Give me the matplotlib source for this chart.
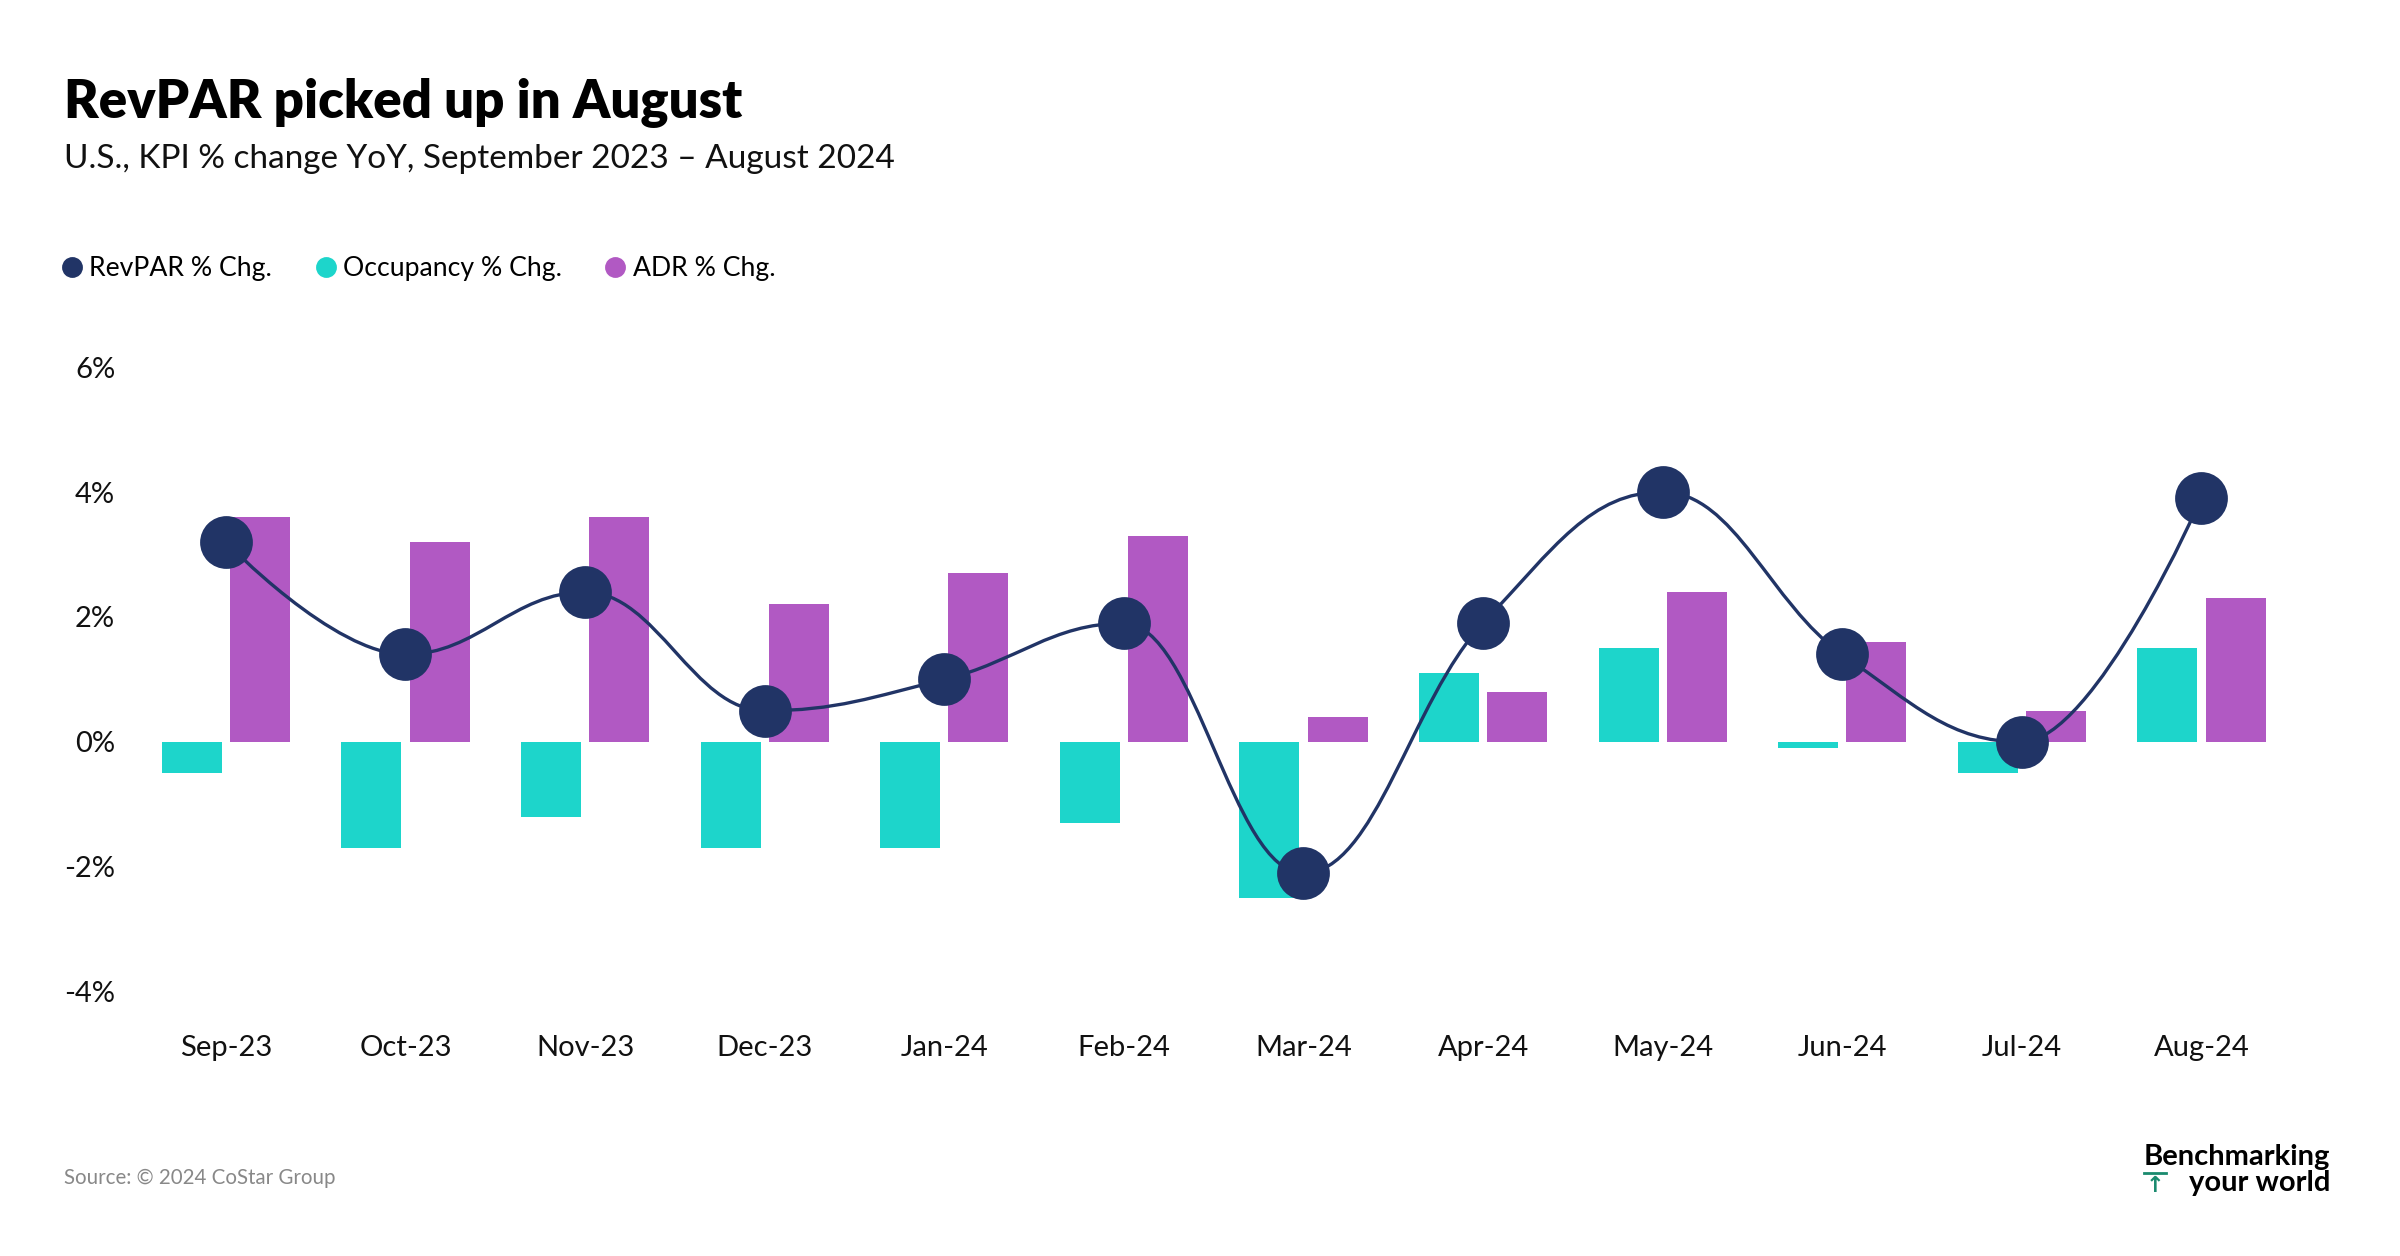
import numpy as np
import matplotlib
matplotlib.use("Agg")
import matplotlib.pyplot as plt
from matplotlib.path import Path
from matplotlib.patches import PathPatch
from matplotlib.lines import Line2D

# --- data ---
months = ["Sep-23", "Oct-23", "Nov-23", "Dec-23", "Jan-24", "Feb-24",
          "Mar-24", "Apr-24", "May-24", "Jun-24", "Jul-24", "Aug-24"]
revpar_chg = [3.2, 1.4, 2.4, 0.5, 1.0, 1.9, -2.1, 1.9, 4.0, 1.4, 0.0, 3.9]
occ_chg = [-0.5, -1.7, -1.2, -1.7, -1.7, -1.3, -2.5, 1.1, 1.5, -0.1, -0.5, 1.5]
adr_chg = [3.6, 3.2, 3.6, 2.2, 2.7, 3.3, 0.4, 0.8, 2.4, 1.6, 0.5, 2.3]
y_ticks = [-4, -2, 0, 2, 4, 6]

NAVY = "#213466"
TEAL = "#1dd5cb"
PURPLE = "#b159c3"
TXT = "#111111"

plt.rcParams["font.family"] = ["Lato", "DejaVu Sans"]


def spline_path(xs, ys, smoothing=1.5):
    """Highcharts-style spline through the points, as a bezier Path."""
    n = len(xs)
    left = [None] * n
    right = [None] * n
    denom = smoothing + 1
    for i in range(1, n - 1):
        x, y = xs[i], ys[i]
        lx = (smoothing * x + xs[i - 1]) / denom
        ly = (smoothing * y + ys[i - 1]) / denom
        rx = (smoothing * x + xs[i + 1]) / denom
        ry = (smoothing * y + ys[i + 1]) / denom
        corr = ((ry - ly) * (rx - x)) / (rx - lx) + y - ry
        ly += corr
        ry += corr
        # keep the curve from overshooting the neighbours
        if ly > ys[i - 1] and ly > y:
            ly = max(ys[i - 1], y)
            ry = 2 * y - ly
        elif ly < ys[i - 1] and ly < y:
            ly = min(ys[i - 1], y)
            ry = 2 * y - ly
        if ry > ys[i + 1] and ry > y:
            ry = max(ys[i + 1], y)
            ly = 2 * y - ry
        elif ry < ys[i + 1] and ry < y:
            ry = min(ys[i + 1], y)
            ly = 2 * y - ry
        left[i] = (lx, ly)
        right[i] = (rx, ry)
    verts = [(xs[0], ys[0])]
    codes = [Path.MOVETO]
    for i in range(1, n):
        c1 = right[i - 1] or (xs[i - 1], ys[i - 1])
        c2 = left[i] or (xs[i], ys[i])
        verts += [c1, c2, (xs[i], ys[i])]
        codes += [Path.CURVE4] * 3
    return Path(verts, codes)


fig = plt.figure(figsize=(12, 6.28), dpi=200)
ax = fig.add_axes([0.0567, 0.2102, 0.898, 0.4976])

x = np.arange(len(months))
bw = 0.334
off = 0.19
ax.bar(x - off, occ_chg, width=bw, color=TEAL, zorder=2)
ax.bar(x + off, adr_chg, width=bw, color=PURPLE, zorder=2)

ax.add_patch(PathPatch(spline_path(list(x), revpar_chg), facecolor="none",
                       edgecolor=NAVY, lw=1.2, zorder=3))
ax.plot(x, revpar_chg, "o", color=NAVY, ms=19, mew=0, zorder=4, clip_on=False)

ax.set_xlim(-0.5, len(months) - 0.5)
ax.set_ylim(-4, 6)
ax.set_yticks(y_ticks)
ax.set_yticklabels([f"{v}%" for v in y_ticks])
ax.set_xticks(x)
ax.set_xticklabels(months)
ax.tick_params(axis="both", length=0, colors=TXT)
ax.tick_params(axis="y", labelsize=10.5, pad=7.5)
ax.tick_params(axis="x", labelsize=10.5, pad=15.5)
for s in ax.spines.values():
    s.set_visible(False)

# titles
fig.text(0.0267, 0.906, "RevPAR picked up in August", fontsize=19.0,
         fontweight="heavy", color="black", ha="left", va="baseline")
fig.text(0.0267, 0.866, "U.S., KPI % change YoY, September 2023 \u2013 August 2024",
         fontsize=12.0, color=TXT, ha="left", va="baseline")

# legend
handles = [Line2D([], [], ls="none", marker="o", ms=6.5, color=c)
           for c in (NAVY, TEAL, PURPLE)]
fig.legend(handles, ["RevPAR % Chg.", "Occupancy % Chg.", "ADR % Chg."],
           loc="center left", bbox_to_anchor=(0.0245, 0.786), ncol=3,
           frameon=False, fontsize=9.6, handletextpad=0.15, columnspacing=1.5,
           handlelength=1.0, borderpad=0, borderaxespad=0)

# footer
fig.text(0.0267, 0.062, "Source: \u00a9 2024 CoStar Group", fontsize=7.4,
         color="#888888", ha="left", va="center")
fig.text(0.971, 0.079, "Benchmarking", fontsize=10.5, fontweight="bold",
         color="black", ha="right", va="center")
fig.text(0.971, 0.058, "your world", fontsize=10.5, fontweight="bold",
         color="black", ha="right", va="center")
fig.add_artist(Line2D([0.8935, 0.9025], [0.066, 0.066], color="#1a8a6e", lw=1.0))
fig.text(0.898, 0.056, "\u2191", fontsize=8, fontweight="bold", color="#1a8a6e",
         ha="center", va="center", family="DejaVu Sans")

fig.savefig("out.png", dpi=200, facecolor="white")
